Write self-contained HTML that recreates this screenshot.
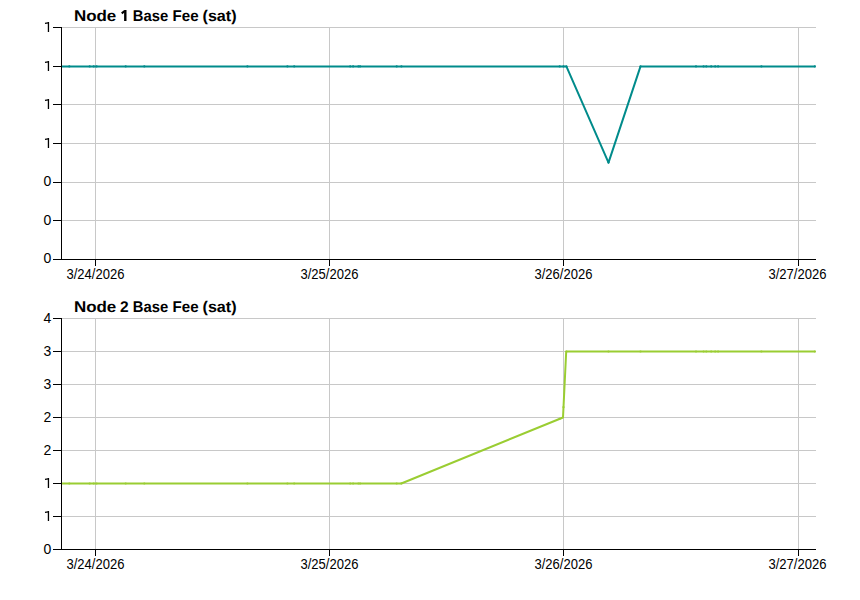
<!DOCTYPE html>
<html><head><meta charset="utf-8"><style>
html,body{margin:0;padding:0;background:#fff;}
svg{display:block;}
.l{font-family:"Liberation Sans",sans-serif;font-size:14.0px;fill:#000;}
.t{font-family:"Liberation Sans",sans-serif;font-size:15.5px;font-weight:bold;fill:#000;text-rendering:geometricPrecision;}
</style></head><body>
<svg width="860" height="600" viewBox="0 0 860 600">
<rect width="860" height="600" fill="#fff"/>
<rect x="62" y="27" width="754" height="1" fill="#c8c8c8"/>
<rect x="62" y="66" width="754" height="1" fill="#c8c8c8"/>
<rect x="62" y="104" width="754" height="1" fill="#c8c8c8"/>
<rect x="62" y="143" width="754" height="1" fill="#c8c8c8"/>
<rect x="62" y="182" width="754" height="1" fill="#c8c8c8"/>
<rect x="62" y="220" width="754" height="1" fill="#c8c8c8"/>
<rect x="95" y="27" width="1" height="232" fill="#c8c8c8"/>
<rect x="329" y="27" width="1" height="232" fill="#c8c8c8"/>
<rect x="563" y="27" width="1" height="232" fill="#c8c8c8"/>
<rect x="798" y="27" width="1" height="232" fill="#c8c8c8"/>
<polyline points="61,66.4 566.4,66.4 608.5,162.6 640.5,66.4 815.5,66.4" fill="none" stroke="#008b8b" stroke-width="2" stroke-linejoin="round"/>
<circle cx="69.3" cy="66.40" r="1.1" fill="#008b8b"/>
<circle cx="89.7" cy="66.40" r="1.1" fill="#008b8b"/>
<circle cx="93.7" cy="66.40" r="1.1" fill="#008b8b"/>
<circle cx="96.6" cy="66.40" r="1.1" fill="#008b8b"/>
<circle cx="125.7" cy="66.40" r="1.1" fill="#008b8b"/>
<circle cx="144.3" cy="66.40" r="1.1" fill="#008b8b"/>
<circle cx="247.4" cy="66.40" r="1.1" fill="#008b8b"/>
<circle cx="287.4" cy="66.40" r="1.1" fill="#008b8b"/>
<circle cx="294.2" cy="66.40" r="1.1" fill="#008b8b"/>
<circle cx="350.2" cy="66.40" r="1.1" fill="#008b8b"/>
<circle cx="353.1" cy="66.40" r="1.1" fill="#008b8b"/>
<circle cx="358.4" cy="66.40" r="1.1" fill="#008b8b"/>
<circle cx="360.1" cy="66.40" r="1.1" fill="#008b8b"/>
<circle cx="396.7" cy="66.40" r="1.1" fill="#008b8b"/>
<circle cx="401.4" cy="66.40" r="1.1" fill="#008b8b"/>
<circle cx="559.7" cy="66.40" r="1.1" fill="#008b8b"/>
<circle cx="563.5" cy="66.40" r="1.1" fill="#008b8b"/>
<circle cx="566.4" cy="66.40" r="1.1" fill="#008b8b"/>
<circle cx="608.5" cy="162.60" r="1.1" fill="#008b8b"/>
<circle cx="640.5" cy="66.40" r="1.1" fill="#008b8b"/>
<circle cx="696" cy="66.40" r="1.1" fill="#008b8b"/>
<circle cx="703.6" cy="66.40" r="1.1" fill="#008b8b"/>
<circle cx="706.3" cy="66.40" r="1.1" fill="#008b8b"/>
<circle cx="711.2" cy="66.40" r="1.1" fill="#008b8b"/>
<circle cx="715.2" cy="66.40" r="1.1" fill="#008b8b"/>
<circle cx="718.1" cy="66.40" r="1.1" fill="#008b8b"/>
<circle cx="761.4" cy="66.40" r="1.1" fill="#008b8b"/>
<circle cx="814.8" cy="66.40" r="1.1" fill="#008b8b"/>
<rect x="61" y="27" width="1" height="233" fill="#000"/>
<rect x="53" y="259" width="763" height="1" fill="#000"/>
<rect x="53" y="27" width="8" height="1" fill="#000"/>
<rect x="53" y="66" width="8" height="1" fill="#000"/>
<rect x="53" y="104" width="8" height="1" fill="#000"/>
<rect x="53" y="143" width="8" height="1" fill="#000"/>
<rect x="53" y="182" width="8" height="1" fill="#000"/>
<rect x="53" y="220" width="8" height="1" fill="#000"/>
<rect x="53" y="259" width="8" height="1" fill="#000"/>
<rect x="95" y="259" width="1" height="7" fill="#000"/>
<rect x="329" y="259" width="1" height="7" fill="#000"/>
<rect x="563" y="259" width="1" height="7" fill="#000"/>
<rect x="798" y="259" width="1" height="7" fill="#000"/>
<path d="M47.8 22h1.3v10h-1.3z M45 23.8L48 22.4" stroke="#000" stroke-width="0" fill="#000"/><path d="M45 23.4L48.2 22.9" stroke="#000" stroke-width="1.1" fill="none"/>
<path d="M47.8 61h1.3v10h-1.3z M45 62.8L48 61.4" stroke="#000" stroke-width="0" fill="#000"/><path d="M45 62.4L48.2 61.9" stroke="#000" stroke-width="1.1" fill="none"/>
<path d="M47.8 99h1.3v10h-1.3z M45 100.8L48 99.4" stroke="#000" stroke-width="0" fill="#000"/><path d="M45 100.4L48.2 99.9" stroke="#000" stroke-width="1.1" fill="none"/>
<path d="M47.8 138h1.3v10h-1.3z M45 139.8L48 138.4" stroke="#000" stroke-width="0" fill="#000"/><path d="M45 139.4L48.2 138.9" stroke="#000" stroke-width="1.1" fill="none"/>
<text x="51.4" y="186" text-anchor="end" class="l">0</text>
<text x="51.4" y="225" text-anchor="end" class="l">0</text>
<text x="51.4" y="263" text-anchor="end" class="l">0</text>
<text x="95.5" y="279" text-anchor="middle" class="l" textLength="58.0" lengthAdjust="spacingAndGlyphs">3/24/2026</text>
<text x="329.5" y="279" text-anchor="middle" class="l" textLength="58.0" lengthAdjust="spacingAndGlyphs">3/25/2026</text>
<text x="563.5" y="279" text-anchor="middle" class="l" textLength="58.0" lengthAdjust="spacingAndGlyphs">3/26/2026</text>
<text x="797.5" y="279" text-anchor="middle" class="l" textLength="58.0" lengthAdjust="spacingAndGlyphs">3/27/2026</text>
<text x="73.9" y="21" class="t" textLength="42.4" lengthAdjust="spacingAndGlyphs">Node</text>
<path d="M124.1 10h2.4v11h-2.4z" fill="#000"/><path d="M121.7 13.4L124.6 11.1" stroke="#000" stroke-width="2.1" fill="none"/>
<text x="132.8" y="21" class="t" textLength="35.4" lengthAdjust="spacingAndGlyphs">Base</text>
<text x="172.6" y="21" class="t" textLength="26.0" lengthAdjust="spacingAndGlyphs">Fee</text>
<text x="202.5" y="21" class="t" textLength="34.1" lengthAdjust="spacingAndGlyphs">(sat)</text>
<rect x="62" y="318" width="754" height="1" fill="#c8c8c8"/>
<rect x="62" y="351" width="754" height="1" fill="#c8c8c8"/>
<rect x="62" y="384" width="754" height="1" fill="#c8c8c8"/>
<rect x="62" y="417" width="754" height="1" fill="#c8c8c8"/>
<rect x="62" y="450" width="754" height="1" fill="#c8c8c8"/>
<rect x="62" y="483" width="754" height="1" fill="#c8c8c8"/>
<rect x="62" y="516" width="754" height="1" fill="#c8c8c8"/>
<rect x="95" y="318" width="1" height="231" fill="#c8c8c8"/>
<rect x="329" y="318" width="1" height="231" fill="#c8c8c8"/>
<rect x="563" y="318" width="1" height="231" fill="#c8c8c8"/>
<rect x="798" y="318" width="1" height="231" fill="#c8c8c8"/>
<polyline points="61,483.5 401.3,483.5 563,417.5 566.2,351.5 815.5,351.5" fill="none" stroke="#9acd32" stroke-width="2" stroke-linejoin="round"/>
<circle cx="69.3" cy="483.50" r="1.1" fill="#9acd32"/>
<circle cx="89.7" cy="483.50" r="1.1" fill="#9acd32"/>
<circle cx="93.7" cy="483.50" r="1.1" fill="#9acd32"/>
<circle cx="96.6" cy="483.50" r="1.1" fill="#9acd32"/>
<circle cx="125.7" cy="483.50" r="1.1" fill="#9acd32"/>
<circle cx="144.3" cy="483.50" r="1.1" fill="#9acd32"/>
<circle cx="247.4" cy="483.50" r="1.1" fill="#9acd32"/>
<circle cx="287.4" cy="483.50" r="1.1" fill="#9acd32"/>
<circle cx="294.2" cy="483.50" r="1.1" fill="#9acd32"/>
<circle cx="350.2" cy="483.50" r="1.1" fill="#9acd32"/>
<circle cx="353.1" cy="483.50" r="1.1" fill="#9acd32"/>
<circle cx="358.4" cy="483.50" r="1.1" fill="#9acd32"/>
<circle cx="360.1" cy="483.50" r="1.1" fill="#9acd32"/>
<circle cx="396.7" cy="483.50" r="1.1" fill="#9acd32"/>
<circle cx="401.4" cy="483.46" r="1.1" fill="#9acd32"/>
<circle cx="559.7" cy="418.85" r="1.1" fill="#9acd32"/>
<circle cx="563.5" cy="407.19" r="1.1" fill="#9acd32"/>
<circle cx="566.4" cy="351.50" r="1.1" fill="#9acd32"/>
<circle cx="608.5" cy="351.50" r="1.1" fill="#9acd32"/>
<circle cx="640.5" cy="351.50" r="1.1" fill="#9acd32"/>
<circle cx="696" cy="351.50" r="1.1" fill="#9acd32"/>
<circle cx="703.6" cy="351.50" r="1.1" fill="#9acd32"/>
<circle cx="706.3" cy="351.50" r="1.1" fill="#9acd32"/>
<circle cx="711.2" cy="351.50" r="1.1" fill="#9acd32"/>
<circle cx="715.2" cy="351.50" r="1.1" fill="#9acd32"/>
<circle cx="718.1" cy="351.50" r="1.1" fill="#9acd32"/>
<circle cx="761.4" cy="351.50" r="1.1" fill="#9acd32"/>
<circle cx="814.8" cy="351.50" r="1.1" fill="#9acd32"/>
<rect x="61" y="318" width="1" height="232" fill="#000"/>
<rect x="53" y="549" width="763" height="1" fill="#000"/>
<rect x="53" y="318" width="8" height="1" fill="#000"/>
<rect x="53" y="351" width="8" height="1" fill="#000"/>
<rect x="53" y="384" width="8" height="1" fill="#000"/>
<rect x="53" y="417" width="8" height="1" fill="#000"/>
<rect x="53" y="450" width="8" height="1" fill="#000"/>
<rect x="53" y="483" width="8" height="1" fill="#000"/>
<rect x="53" y="516" width="8" height="1" fill="#000"/>
<rect x="53" y="549" width="8" height="1" fill="#000"/>
<rect x="95" y="549" width="1" height="7" fill="#000"/>
<rect x="329" y="549" width="1" height="7" fill="#000"/>
<rect x="563" y="549" width="1" height="7" fill="#000"/>
<rect x="798" y="549" width="1" height="7" fill="#000"/>
<text x="51.4" y="323" text-anchor="end" class="l">4</text>
<text x="51.4" y="356" text-anchor="end" class="l">3</text>
<text x="51.4" y="389" text-anchor="end" class="l">3</text>
<text x="51.4" y="422" text-anchor="end" class="l">2</text>
<text x="51.4" y="455" text-anchor="end" class="l">2</text>
<path d="M47.8 478h1.3v10h-1.3z M45 479.8L48 478.4" stroke="#000" stroke-width="0" fill="#000"/><path d="M45 479.4L48.2 478.9" stroke="#000" stroke-width="1.1" fill="none"/>
<path d="M47.8 511h1.3v10h-1.3z M45 512.8L48 511.4" stroke="#000" stroke-width="0" fill="#000"/><path d="M45 512.4L48.2 511.9" stroke="#000" stroke-width="1.1" fill="none"/>
<text x="51.4" y="554" text-anchor="end" class="l">0</text>
<text x="95.5" y="569" text-anchor="middle" class="l" textLength="58.0" lengthAdjust="spacingAndGlyphs">3/24/2026</text>
<text x="329.5" y="569" text-anchor="middle" class="l" textLength="58.0" lengthAdjust="spacingAndGlyphs">3/25/2026</text>
<text x="563.5" y="569" text-anchor="middle" class="l" textLength="58.0" lengthAdjust="spacingAndGlyphs">3/26/2026</text>
<text x="797.5" y="569" text-anchor="middle" class="l" textLength="58.0" lengthAdjust="spacingAndGlyphs">3/27/2026</text>
<text x="73.9" y="312" class="t" textLength="42.4" lengthAdjust="spacingAndGlyphs">Node</text>
<text x="120.0" y="312" class="t">2</text>
<text x="132.8" y="312" class="t" textLength="35.4" lengthAdjust="spacingAndGlyphs">Base</text>
<text x="172.6" y="312" class="t" textLength="26.0" lengthAdjust="spacingAndGlyphs">Fee</text>
<text x="202.5" y="312" class="t" textLength="34.1" lengthAdjust="spacingAndGlyphs">(sat)</text>
</svg>
</body></html>
